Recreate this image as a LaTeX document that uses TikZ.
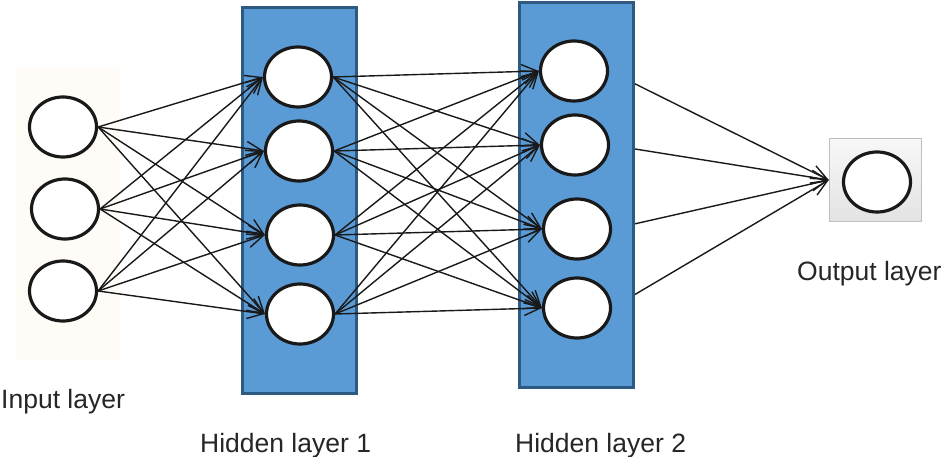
\documentclass[tikz,border=0pt]{standalone}
\usepackage{fontspec}
\setmainfont{Liberation Sans}
\usepackage{xcolor}
\usepackage{tikz}
\usetikzlibrary{positioning, shapes.geometric, arrows.meta, backgrounds}

\definecolor{layerblue}{HTML}{5B9BD5}
\definecolor{layerborder}{HTML}{2E5A82}
\definecolor{inputbg}{HTML}{FFFCF8}

\begin{document}
\begin{tikzpicture}[x=1pt, y=-1pt]
% style: neuron_style
\tikzstyle{neuron_style}=[ellipse,draw=black!90,line width=3.2pt,fill=white,minimum width=67pt,minimum height=60pt,inner sep=0pt]
% style: HiddenLayer_style
\tikzstyle{HiddenLayer_style}=[rectangle,draw=layerborder,line width=3pt,fill=layerblue,minimum width=114pt,minimum height=385pt,inner sep=0pt]
% style: InputLayer_style
\tikzstyle{InputLayer_style}=[rectangle,fill=inputbg,minimum width=104pt,minimum height=292pt,inner sep=0pt]
% style: OutputLayer_style
\tikzstyle{OutputLayer_style}=[rectangle,draw=gray!50,line width=1.5pt,top color=gray!6,bottom color=gray!22,minimum width=92pt,minimum height=83pt,inner sep=0pt]
% style: defaultEdge
\tikzstyle{defaultEdge}=[line width=1.4pt,black!90,-{Straight Barb[length=16pt,width=14pt]}]
% style: layerLabel
\tikzstyle{layerLabel}=[anchor=base west,inner sep=0pt,font=\fontsize{26.5}{30}\selectfont,text=black!85]

\useasboundingbox (0,0) rectangle (950,457);

% node group: input_group
% node: input_layer
\node[InputLayer_style] (input_layer) at (68, 214) {};
% node: input_1
\node[neuron_style] (input_1) at (63, 127) {};
% node: input_2
\node[neuron_style] (input_2) at (65, 209) {};
% node: input_3
\node[neuron_style] (input_3) at (63, 291) {};
% end of node group: input_group

% node group: hidden1_group
% node: hidden_layer_1
\node[HiddenLayer_style] (hidden_layer_1) at (299, 200.5) {};
% node: hidden1_1
\node[neuron_style] (hidden1_1) at (298, 77) {};
% node: hidden1_2
\node[neuron_style] (hidden1_2) at (299, 151) {};
% node: hidden1_3
\node[neuron_style] (hidden1_3) at (300, 235) {};
% node: hidden1_4
\node[neuron_style] (hidden1_4) at (300, 314) {};
% end of node group: hidden1_group

% node group: hidden2_group
% node: hidden_layer_2
\node[HiddenLayer_style] (hidden_layer_2) at (576, 195) {};
% node: hidden2_1
\node[neuron_style] (hidden2_1) at (574, 71) {};
% node: hidden2_2
\node[neuron_style] (hidden2_2) at (575, 145) {};
% node: hidden2_3
\node[neuron_style] (hidden2_3) at (577, 229) {};
% node: hidden2_4
\node[neuron_style] (hidden2_4) at (577, 308) {};
% end of node group: hidden2_group

% node group: output_group
% node: output_layer
\node[OutputLayer_style] (output_layer) at (875.5, 180) {};
% node: output
\node[neuron_style] (output) at (877, 182) {};
% end of node group: output_group

% labels
\node[layerLabel] (input_label) at (1, 408) {Input layer};
\node[layerLabel] (hidden1_label) at (200, 452) {Hidden layer 1};
\node[layerLabel] (hidden2_label) at (515, 452) {Hidden layer 2};
\node[layerLabel] (output_label) at (797, 280) {Output layer};

% edges from input_1
\draw[defaultEdge] (input_1.east) -- (hidden1_1.west);
\draw[defaultEdge] (input_1.east) -- (hidden1_2.west);
\draw[defaultEdge] (input_1.east) -- (hidden1_3.west);
\draw[defaultEdge] (input_1.east) -- (hidden1_4.west);

% edges from input_2
\draw[defaultEdge] (input_2.east) -- (hidden1_1.west);
\draw[defaultEdge] (input_2.east) -- (hidden1_2.west);
\draw[defaultEdge] (input_2.east) -- (hidden1_3.west);
\draw[defaultEdge] (input_2.east) -- (hidden1_4.west);

% edges from input_3
\draw[defaultEdge] (input_3.east) -- (hidden1_1.west);
\draw[defaultEdge] (input_3.east) -- (hidden1_2.west);
\draw[defaultEdge] (input_3.east) -- (hidden1_3.west);
\draw[defaultEdge] (input_3.east) -- (hidden1_4.west);

% edges from hidden1_1
\draw[defaultEdge] (hidden1_1.east) -- (hidden2_1.west);
\draw[defaultEdge] (hidden1_1.east) -- (hidden2_2.west);
\draw[defaultEdge] (hidden1_1.east) -- (hidden2_3.west);
\draw[defaultEdge] (hidden1_1.east) -- (hidden2_4.west);

% edges from hidden1_2
\draw[defaultEdge] (hidden1_2.east) -- (hidden2_1.west);
\draw[defaultEdge] (hidden1_2.east) -- (hidden2_2.west);
\draw[defaultEdge] (hidden1_2.east) -- (hidden2_3.west);
\draw[defaultEdge] (hidden1_2.east) -- (hidden2_4.west);

% edges from hidden1_3
\draw[defaultEdge] (hidden1_3.east) -- (hidden2_1.west);
\draw[defaultEdge] (hidden1_3.east) -- (hidden2_2.west);
\draw[defaultEdge] (hidden1_3.east) -- (hidden2_3.west);
\draw[defaultEdge] (hidden1_3.east) -- (hidden2_4.west);

% edges from hidden1_4
\draw[defaultEdge] (hidden1_4.east) -- (hidden2_1.west);
\draw[defaultEdge] (hidden1_4.east) -- (hidden2_2.west);
\draw[defaultEdge] (hidden1_4.east) -- (hidden2_3.west);
\draw[defaultEdge] (hidden1_4.east) -- (hidden2_4.west);

% edges from hidden2 to output (behind the layer box)
\begin{pgfonlayer}{background}
\draw[defaultEdge] (hidden2_1.east) -- (output_layer.west);
\draw[defaultEdge] (hidden2_2.east) -- (output_layer.west);
\draw[defaultEdge] (hidden2_3.east) -- (output_layer.west);
\draw[defaultEdge] (hidden2_4.east) -- (output_layer.west);
\end{pgfonlayer}

\end{tikzpicture}
\end{document}
